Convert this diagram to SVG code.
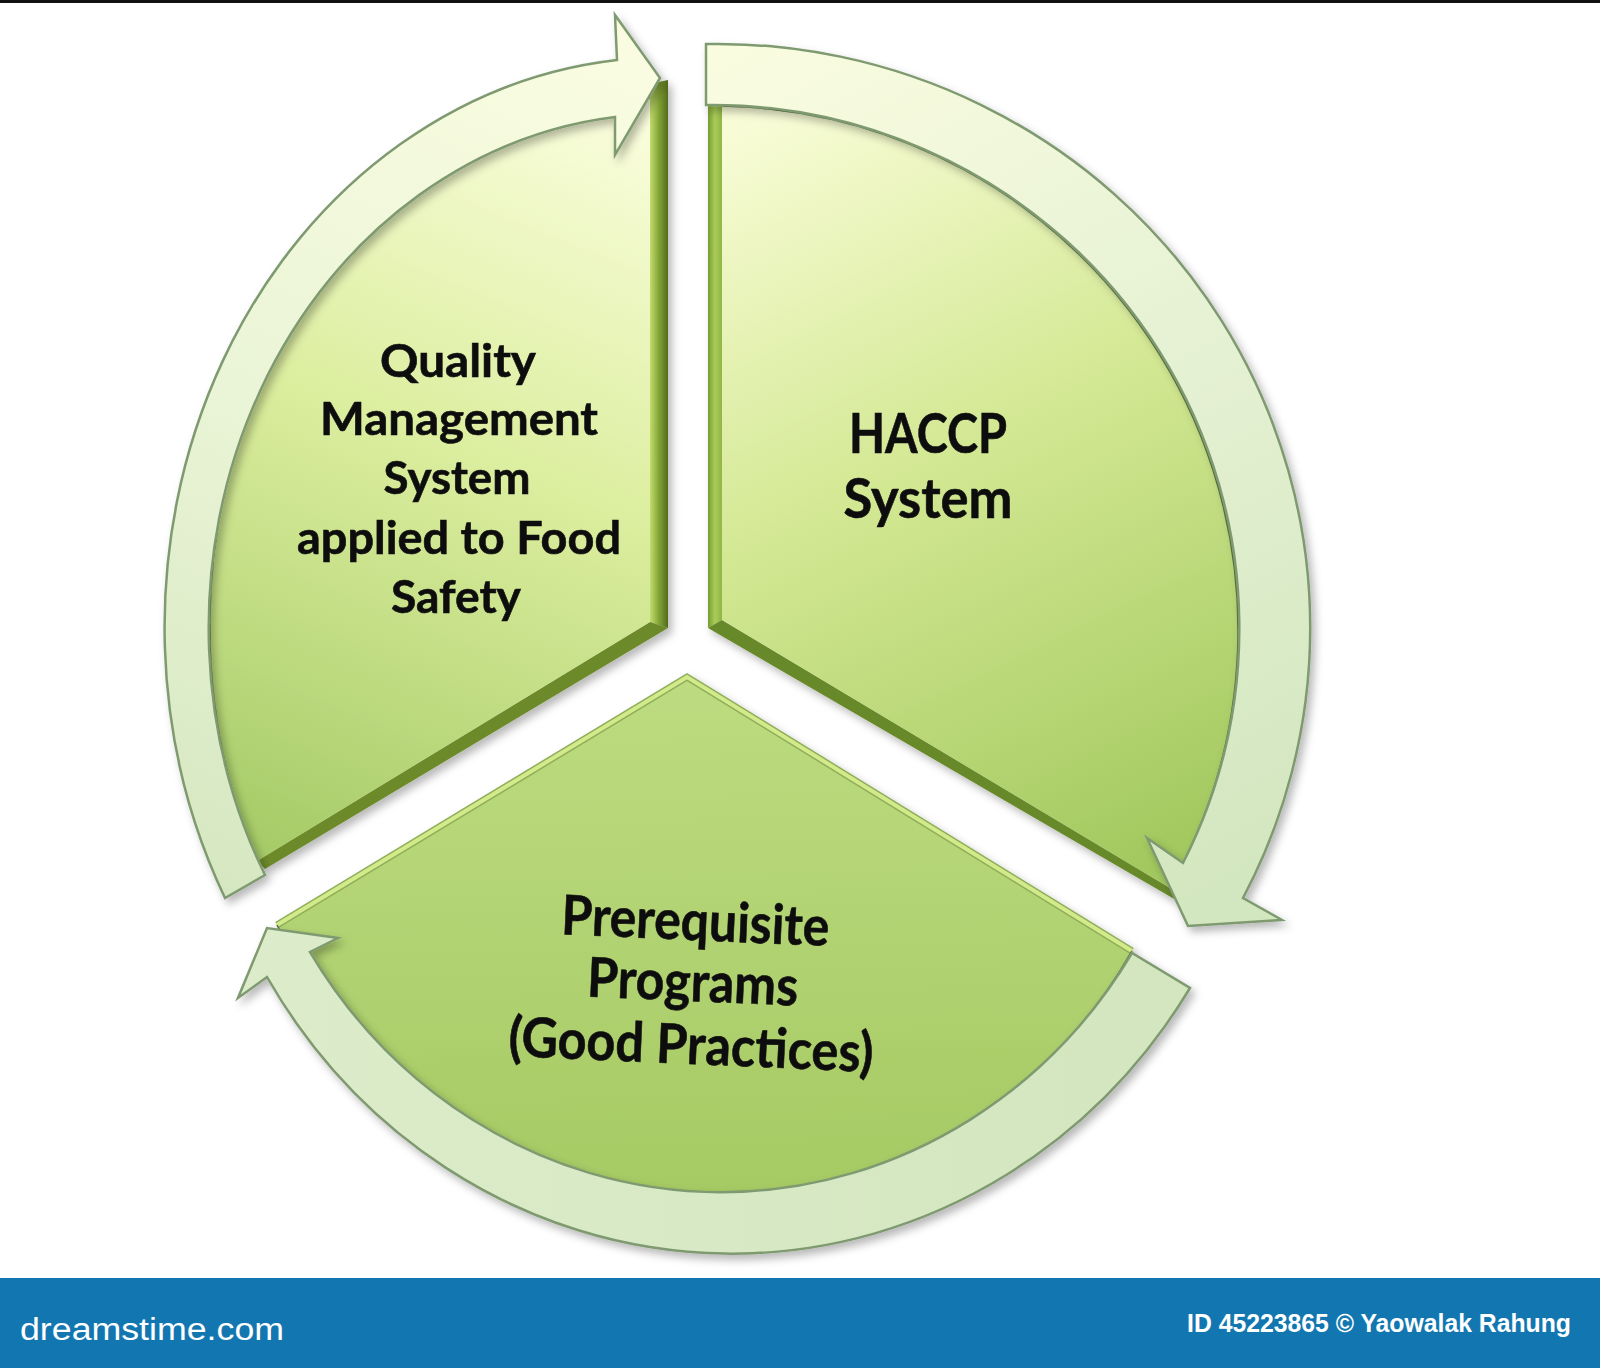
<svg xmlns="http://www.w3.org/2000/svg" width="1600" height="1368" viewBox="0 0 1600 1368">
<defs>
<style>
.lbl{font-family:Lato,"Open Sans","Liberation Sans",sans-serif;font-weight:bold;fill:#111;text-anchor:middle;stroke:#111;stroke-width:0.6}
.band{stroke:#7f9a70;stroke-width:2.5;stroke-linejoin:miter}
.edge{fill:none;stroke:#56703c;stroke-width:1.6}
.foot{font-family:"Liberation Sans",Arial,sans-serif;fill:#fff}
</style>
<filter id="sh" x="-10%" y="-10%" width="125%" height="125%">
<feDropShadow dx="4" dy="5" stdDeviation="4" flood-color="#000" flood-opacity="0.28"/>
</filter>
<linearGradient id="gL" gradientUnits="userSpaceOnUse" x1="600" y1="110" x2="290" y2="860">
<stop offset="0" stop-color="#f9fddb"/><stop offset="0.45" stop-color="#dcee9f"/><stop offset="1" stop-color="#a6cb67"/>
</linearGradient>
<linearGradient id="gR" gradientUnits="userSpaceOnUse" x1="760" y1="120" x2="1130" y2="880">
<stop offset="0" stop-color="#f8fcd6"/><stop offset="0.45" stop-color="#d3e893"/><stop offset="1" stop-color="#a2c85e"/>
</linearGradient>
<linearGradient id="gB" gradientUnits="userSpaceOnUse" x1="690" y1="680" x2="700" y2="1190">
<stop offset="0" stop-color="#bddb80"/><stop offset="1" stop-color="#a6ca64"/>
</linearGradient>
<linearGradient id="sL" gradientUnits="userSpaceOnUse" x1="650" y1="0" x2="669" y2="0">
<stop offset="0" stop-color="#c3dd6e"/><stop offset="0.5" stop-color="#7f9f33"/><stop offset="1" stop-color="#4c6619"/>
</linearGradient>
<linearGradient id="sR" gradientUnits="userSpaceOnUse" x1="707" y1="0" x2="723" y2="0">
<stop offset="0" stop-color="#6f9428"/><stop offset="0.5" stop-color="#a9cc5a"/><stop offset="1" stop-color="#8db143"/>
</linearGradient>
<linearGradient id="a1" gradientUnits="userSpaceOnUse" x1="600" y1="60" x2="230" y2="900">
<stop offset="0" stop-color="#f9fce0"/><stop offset="0.5" stop-color="#eaf4d6"/><stop offset="1" stop-color="#d5e7c1"/>
</linearGradient>
<linearGradient id="a2" gradientUnits="userSpaceOnUse" x1="720" y1="50" x2="1200" y2="920">
<stop offset="0" stop-color="#fafce0"/><stop offset="0.5" stop-color="#e5f1d3"/><stop offset="1" stop-color="#d2e6bf"/>
</linearGradient>
<linearGradient id="a3" gradientUnits="userSpaceOnUse" x1="1150" y1="960" x2="270" y2="960">
<stop offset="0" stop-color="#d3e6bf"/><stop offset="0.5" stop-color="#d8e9c5"/><stop offset="1" stop-color="#dcecca"/>
</linearGradient>
</defs>
<rect x="0" y="0" width="1600" height="1368" fill="#fff"/>
<rect x="0" y="0" width="1600" height="3" fill="#111"/>

<g id="node-prp" filter="url(#sh)">
<path d="M 687,677 L 1132,951 A 490 515 0 0 1 277,925 Z" fill="url(#gB)"/>
<path d="M 277,925 L 687,677 L 1132,951" fill="none" stroke="#8fae5a" stroke-width="7"/>
<path d="M 277,925 L 687,677 L 1132,951" fill="none" stroke="#d3ea8a" stroke-width="4"/>
<path d="M 1132,951 A 490 515 0 0 1 277,925" class="edge"/>
<g transform="rotate(2.5 692 1000)">
<text class="lbl" x="692" y="940" font-size="55" textLength="268" lengthAdjust="spacingAndGlyphs">Prerequisite</text>
<text class="lbl" x="692" y="1001" font-size="55" textLength="211" lengthAdjust="spacingAndGlyphs">Programs</text>
<text class="lbl" x="693" y="1064" font-size="55" textLength="365" lengthAdjust="spacingAndGlyphs">(Good Practices)</text>
</g>
</g>

<g id="node-qms" filter="url(#sh)">
<path d="M 650,84 L 668,80 L 668,628 L 650,622 Z" fill="url(#sL)"/>
<path d="M 650,622 L 668,628 L 265,869 L 257,861 Z" fill="#6d8a2a"/>
<path d="M 650,98 L 650,622 L 257,861 A 452 528 0 0 1 650,98 Z" fill="url(#gL)"/>
<path d="M 257,861 A 452 528 0 0 1 650,98" class="edge"/>
<text class="lbl" x="458" y="377" font-size="45" textLength="156" lengthAdjust="spacingAndGlyphs">Quality</text>
<text class="lbl" x="459" y="435" font-size="45" textLength="278" lengthAdjust="spacingAndGlyphs">Management</text>
<text class="lbl" x="457" y="494" font-size="45" textLength="147" lengthAdjust="spacingAndGlyphs">System</text>
<text class="lbl" x="459" y="554" font-size="45" textLength="324" lengthAdjust="spacingAndGlyphs">applied to Food</text>
<text class="lbl" x="456" y="613" font-size="45" textLength="130" lengthAdjust="spacingAndGlyphs">Safety</text>
</g>

<g id="node-haccp" filter="url(#sh)">
<path d="M 708,106 L 722,106 L 722,620 L 708,628 Z" fill="url(#sR)"/>
<path d="M 708,628 L 722,620 L 1170,888 L 1176,900 Z" fill="#68892a"/>
<path d="M 722,106 L 722,620 L 1170,888 A 525 524 0 0 0 722,106 Z" fill="url(#gR)"/>
<path d="M 1170,888 A 525 524 0 0 0 722,106" class="edge"/>
<text class="lbl" x="928" y="453" font-size="55" textLength="158" lengthAdjust="spacingAndGlyphs">HACCP</text>
<text class="lbl" x="928" y="518" font-size="55" textLength="169" lengthAdjust="spacingAndGlyphs">System</text>
</g>

<g id="connectors" filter="url(#sh)">
<path id="arrow-qms-to-haccp" class="band" fill="url(#a1)" d="M 225,898 A 503 570 0 0 1 617,60 L 615,15 L 660,78 L 615,155 L 615,117 A 457 514 0 0 0 265,875 Z"/>
<path id="arrow-haccp-to-prp" class="band" fill="url(#a2)" d="M 706,44 A 593 584 0 0 1 1243,898 L 1282,920 L 1188,926 L 1147,838 L 1183,863 A 528 523 0 0 0 706,105 Z"/>
<path id="arrow-prp-to-qms" class="band" fill="url(#a3)" d="M 1190,988 A 543 573 0 0 1 267,977 L 238,998 L 267,928 L 338,938 L 310,952 A 486 514 0 0 0 1132,953 Z"/>
</g>

<g id="footer">
<rect x="0" y="1278" width="1600" height="90" fill="#1277b1"/>
<text class="foot" x="20" y="1340" font-size="31" textLength="264" lengthAdjust="spacingAndGlyphs">dreamstime.com</text>
<text class="foot" x="1571" y="1332" font-size="25" font-weight="bold" text-anchor="end" textLength="384" lengthAdjust="spacingAndGlyphs">ID 45223865 © Yaowalak Rahung</text>
</g>
</svg>
